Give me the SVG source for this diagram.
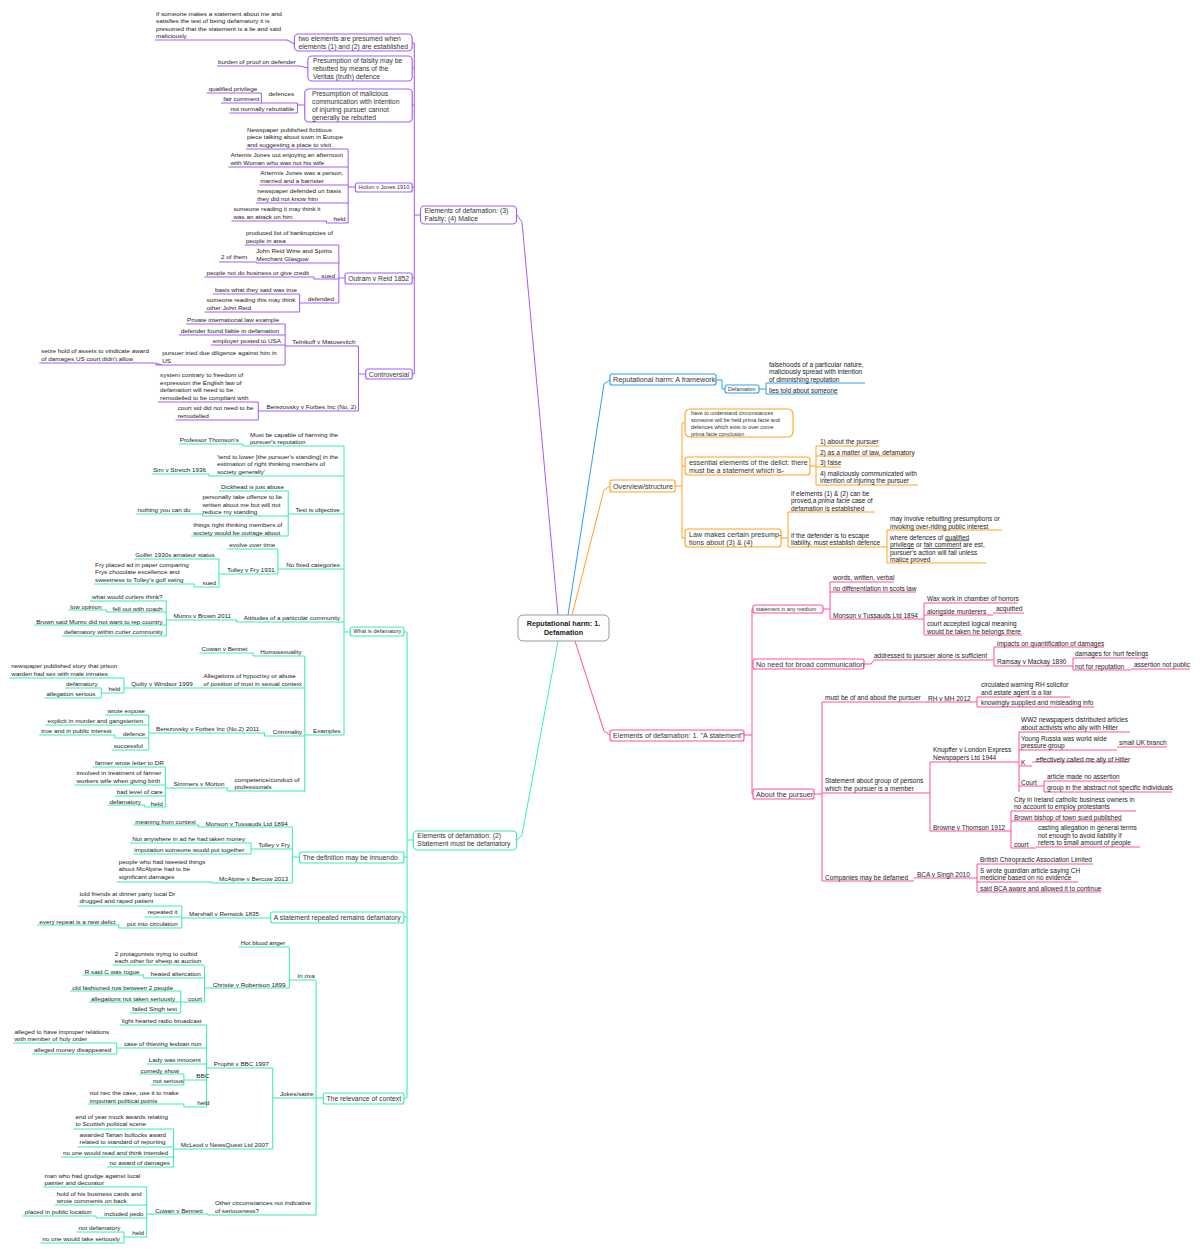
<svg xmlns="http://www.w3.org/2000/svg" width="1200" height="1253" viewBox="0 0 1200 1253">
<style>
text{font-family:"Liberation Sans",Arial,sans-serif;fill:#222}
.t{font-size:6.1px}
.r{font-size:6.5px}
.b{font-size:7.2px;fill:#333}
#left .b{font-size:6.6px}
.s{font-size:5.4px;fill:#333}
.c{stroke-width:1;fill:none}
.pu{stroke:#a15cff}.gr{stroke:#38eeb0}.bl{stroke:#2d9cf0}.or{stroke:#ffa31a}.pk{stroke:#ff4fa0}
.bx{fill:#fff;stroke-width:1.1}
</style>
<rect width="1200" height="1253" fill="#fff"/>
<g id="connectors-main" class="c">
<path class="pu" d="M517,215 L522,222 L558,615"/>
<path class="gr" d="M517,840 L522,835 L558,641"/>
<path class="bl" d="M610,380 L604,384 L568,615"/>
<path class="or" d="M610,486 L604,490 L572,615"/>
<path class="pk" d="M610,735 L604,731 L575,641"/>
</g>
<g id="center">
<rect x="518" y="615" width="91" height="26" rx="5" fill="#fff" stroke="#999"/>
<text x="563.5" y="626" text-anchor="middle" style="font-size:7.2px;font-weight:bold">Reputational harm: 1.</text>
<text x="563.5" y="635" text-anchor="middle" style="font-size:7.2px;font-weight:bold">Defamation</text>
</g>
<g id="left" transform="scale(1.0331,1)">
<g id="purple-connectors" class="c pu">
<path d="M401,43V374 M399,43H401 M399,68H401 M399,105H401 M399,187H401 M399,278H401 M399,374H401 M401,215H407"/>
<path d="M150,40H278L285,44 M210,66H290L298,68"/>
<path d="M253,103H288 M253,93V103 M200,93H253 M214,103H253 M222,113H288 M288,103V113 M288,105H295"/>
<path d="M337,149V223 M337,187H344 M238,149H337 M221,167H337 M251,185H337 M248,203H337 M316,223H337 M224,221H316V223"/>
<path d="M328,245V303 M328,278H334 M237,245H328 M248,263H328 M212,262H248V263 M304,279H328 M198,277H304V279 M290,303H328 M290,294V312 M206,294H290 M198,312H290"/>
<path d="M347,346V411 M347,374H354 M282,346H347 M276,324V365 M276,346H282 M180,324H276 M173,335H276 M204,345H276 M150,365H276 M38,363H150L157,365 M250,411H347 M250,402V420 M153,402H250 M170,420H250"/>
</g>
<g id="purple-nodes">
<g id="n-el3"><rect class="bx pu" x="407" y="206" width="93" height="18" rx="4"/><text class="b" x="411" y="213.5">Elements of defamation: (3)</text><text class="b" x="411" y="221.5">Falsity; (4) Malice</text></g>
<g id="n-two"><rect class="bx pu" x="285" y="34" width="114" height="17" rx="4"/><text class="b" x="289" y="41">two elements are presumed when</text><text class="b" x="289" y="49">elements (1) and (2) are established</text></g>
<g id="n-fals"><rect class="bx pu" x="298" y="56" width="101" height="25" rx="4"/><text class="b" x="303" y="63">Presumption of falsity may be</text><text class="b" x="303" y="71">rebutted by means of the</text><text class="b" x="303" y="79">Veritas (truth) defence</text></g>
<g id="n-mal"><rect class="bx pu" x="295" y="89" width="104" height="33" rx="4"/><text class="b" x="302" y="96">Presumption of malicious</text><text class="b" x="302" y="104">communication with intention</text><text class="b" x="302" y="112">of injuring pursuer cannot</text><text class="b" x="302" y="120">generally be rebutted</text></g>
<g id="n-hulton"><rect class="bx pu" x="344" y="183" width="55" height="9" rx="2"/><text class="s" x="347" y="189.5">Hulton v Jones 1910</text></g>
<g id="n-outram"><rect class="bx pu" x="334" y="273" width="65" height="11" rx="2"/><text class="b" x="337" y="281">Outram v Reid 1852</text></g>
<g id="n-contro"><rect class="bx pu" x="354" y="369" width="45" height="10" rx="2"/><text class="b" x="357" y="377">Controversial</text></g>
<g class="t">
<text x="151" y="16">if someone makes a statement about me and</text><text x="151" y="23.5">satisfies the test of being defamatory it is</text><text x="151" y="31">presumed that the statement is a lie and said</text><text x="151" y="38.5">maliciously</text>
<text x="211" y="64">burden of proof on defender</text>
<text x="202" y="91">qualified privilege</text><text x="216" y="101">fair comment</text><text x="260" y="96">defences</text><text x="223" y="111.5">not normally rebuttable</text>
<text x="239" y="132">Newspaper published fictitious</text><text x="239" y="139.5">piece talking about town in Europe</text><text x="239" y="147">and suggesting a place to visit</text>
<text x="223" y="157.5">Artemis Jones out enjoying an afternoon</text><text x="223" y="165">with Woman who was not his wife</text>
<text x="252" y="175.5">Artermis Jones was a person,</text><text x="252" y="183">married and a barrister</text>
<text x="249" y="193.5">newspaper defended on basis</text><text x="249" y="201">they did not know him</text>
<text x="226" y="211.5">someone reading it may think it</text><text x="226" y="219">was an attack on him</text><text x="323" y="221">held</text>
<text x="238" y="235.5">produced list of bankruptcies of</text><text x="238" y="243">people in area</text>
<text x="248" y="253.5">John Reid Wine and Spirits</text><text x="248" y="261">Merchant Glasgow</text><text x="214" y="259">2 of them</text>
<text x="200" y="275.5">people not do business or give credit</text><text x="311" y="278">sued</text>
<text x="208" y="292">basis what they said was true</text><text x="200" y="302.5">someone reading this may think</text><text x="200" y="310">other John Reid</text><text x="298" y="301.5">defended</text>
<text x="181" y="322.5">Private international law example</text><text x="175" y="333">defender found liable in defamation</text><text x="206" y="343.5">employer posted to USA</text><text x="283" y="344.5">Telnikoff v Matusevitch</text>
<text x="157" y="355.5">pursuer tried due diligence against him in</text><text x="157" y="363">US</text>
<text x="40" y="353.5">seize hold of assets to vindicate award</text><text x="40" y="361">of damages US court didn't allow</text>
<text x="155" y="377.5">system contrary to freedom of</text><text x="155" y="385">expression the English law of</text><text x="155" y="392.5">defamation will need to be</text><text x="155" y="400">remodelled to be compliant with</text>
<text x="172" y="410.5">court sid did not need to be</text><text x="172" y="418">remodelled</text><text x="258" y="409.5">Berezovsky v Forbes Inc (No. 2)</text>
</g>
</g>
<g id="green-connectors" class="c gr">
<path d="M394,632V1098 M391,632H394 M391,857H394 M391,917H394 M391,1098H394 M394,840H400"/>
<path d="M333,446V735 M333,632H339 M235,446H333 M173,444H235V446 M202,476H333 M147,474H202V476"/>
<path d="M279,514H333 M279,491V536 M212,491H279 M132,514H196V516 M196,516H279 M185,536H279"/>
<path d="M269,569H333 M269,549V574 M220,549H269 M212,574H269 M212,559V587 M130,559H212 M91,584H188V587 M188,587H212"/>
<path d="M229,622H333 M161,620H229V622 M161,601V636 M87,601H161 M103,612H161 M66,610H103V612 M33,625H161 M60,636H161"/>
<path d="M295,735H333 M295,656V792 M245,656H295 M193,653H245V656 M190,688H295 M120,688H190 M120,678V693 M9,678H120 M98,693H120 M98,688V698 M63,688H98 M43,698H98"/>
<path d="M256,736H295 M144,733H256V736 M144,715V750 M102,715H144 M44,725H144 M111,738H144 M38,735H111V738 M108,750H144"/>
<path d="M220,791H295 M160,788H220V791 M160,767V807 M90,767H160 M72,785H160 M111,796H160 M140,807H160 M104,805H140V807"/>
<path d="M283,827V883 M283,857H290 M192,827H283 M129,825H192V827 M243,849H283 M243,843V854 M126,843H243 M129,854H243 M205,883H283 M113,882H205V883"/>
<path d="M176,918H262 M176,906V928 M75,906H176 M140,917H176 M115,928H176 M36,925H115V928"/>
<path d="M306,981V1215 M306,1098H313 M280,980H306 M280,947V988 M231,947H280 M198,988H280 M198,966V1002 M109,965H198 M139,978H198 M80,975H139V978 M175,1002H198 M175,991V1013 M68,991H175 M86,1002H175 M126,1013H175"/>
<path d="M264,1098H306 M264,1068V1149 M200,1068H264 M200,1025V1107 M116,1025H200 M113,1048H200 M113,1043V1054 M13,1043H113 M31,1054H113 M142,1064H200 M178,1080H200 M178,1074V1085 M135,1074H178 M146,1085H178 M178,1107H200 M85,1104H178V1107"/>
<path d="M168,1149H264 M168,1129V1167 M71,1129H168 M75,1147H168 M59,1157H168 M104,1167H168"/>
<path d="M201,1215H306 M142,1214H201V1215 M142,1187V1237 M42,1187H142 M53,1205H142 M93,1218H142 M22,1216H93V1218 M120,1237H142 M120,1232V1243 M74,1232H120 M39,1243H120"/>
</g>
<g id="green-nodes">
<g id="n-el2"><rect class="bx gr" x="400" y="831" width="100" height="19" rx="4"/><text class="b" x="404" y="838.5">Elements of defamation: (2)</text><text class="b" x="404" y="846.5">Statement must be defamatory</text></g>
<g id="n-what"><rect class="bx gr" x="339" y="627" width="52" height="9" rx="2"/><text class="s" x="342" y="633.5">What is defamatory</text></g>
<g id="n-innu"><rect class="bx gr" x="290" y="852" width="101" height="11" rx="2"/><text class="b" x="293" y="860">The definition may be innuendo</text></g>
<g id="n-rep"><rect class="bx gr" x="262" y="912" width="129" height="11" rx="2"/><text class="b" x="265" y="920">A statement repeated remains defamatory</text></g>
<g id="n-ctx"><rect class="bx gr" x="313" y="1093" width="78" height="11" rx="2"/><text class="b" x="316" y="1101">The relevance of context</text></g>
<g class="t">
<text x="242" y="437">Must be capable of harming the</text><text x="242" y="444.5">pursuer's reputation</text><text x="174" y="442.5">Professor Thomson's</text>
<text x="210" y="459">'tend to lower [the pursuer's standing] in the</text><text x="210" y="466.5">estimation of right thinking members of</text><text x="210" y="474">society generally'</text><text x="148" y="472">Sim v Stretch 1936</text>
<text x="214" y="489">Dickhead is just abuse</text><text x="196" y="499.5">personally take offence to lie</text><text x="196" y="507">written about me but will not</text><text x="196" y="514.5">reduce my standing</text><text x="133" y="512.5">nothing you can do</text><text x="286" y="512">Test is objective</text>
<text x="187" y="527.5">things right thinking members of</text><text x="187" y="535">society would be outrage about</text>
<text x="222" y="547">evolve over time</text><text x="277" y="567">No fixed categories</text><text x="131" y="557">Golfer 1930s amateur status</text><text x="220" y="572">Tolley v Fry 1931</text>
<text x="92" y="567">Fry placed ad in paper comparing</text><text x="92" y="574.5">Frys chocolate excellence and</text><text x="92" y="582">sweetness to Tolley's golf swing</text><text x="196" y="585">sued</text>
<text x="89" y="599">what would curlers think?</text><text x="68" y="609">low opinion</text><text x="109" y="611">fell out with coach</text><text x="168" y="618">Munro v Brown 2011</text><text x="236" y="620.5">Attitudes of a particular community</text>
<text x="35" y="624">Brown said Munro did not want to rep country</text><text x="62" y="634">defamatory within curler community</text>
<text x="195" y="651.5">Cowan v Bennet</text><text x="252" y="654">Homosexuality</text>
<text x="11" y="668.5">newspaper published story that prison</text><text x="11" y="676">warden had sex with male inmates</text>
<text x="197" y="678.5">Allegations of hypocrisy or abuse</text><text x="197" y="686">of position of trust in sexual context</text><text x="127" y="686">Quilty v Windsor 1999</text>
<text x="64" y="686">defamatory</text><text x="105" y="691">held</text><text x="45" y="696.5">allegation serious</text>
<text x="104" y="713">wrote expose</text><text x="46" y="723.5">explicit in murder and gangsterism</text><text x="151" y="731.5">Berezovsky v Forbes Inc (No.2) 2011</text><text x="264" y="734">Criminality</text><text x="303" y="733">Examples</text>
<text x="40" y="733.5">true and in public interest</text><text x="119" y="736">defence</text><text x="110" y="748.5">successful</text>
<text x="92" y="765.5">farmer wrote letter to DR</text><text x="74" y="775.5">involved in treatment of farmer</text><text x="74" y="783">workers wife when giving birth</text>
<text x="227" y="782">competence/conduct of</text><text x="227" y="789.5">professionals</text><text x="168" y="786.5">Simmers v Morton</text>
<text x="113" y="794">bad level of care</text><text x="106" y="804">defamatory</text><text x="146" y="806">held</text>
<text x="131" y="824">meaning from context</text><text x="199" y="826">Monson v Tussauds Ltd 1894</text>
<text x="128" y="841.5">Not anywhere in ad he had taken money</text><text x="250" y="847">Tolley v Fry</text><text x="130" y="852">imputation someone would put together</text>
<text x="115" y="864">people who had tweeted things</text><text x="115" y="871.5">about McAlpine had to be</text><text x="115" y="879">significant damages</text><text x="212" y="881.5">McAlpine v Bercow 2013</text>
<text x="77" y="896">told friends at dinner party local Dr</text><text x="77" y="903.5">drugged and raped patient</text>
<text x="143" y="914.5">repeated it</text><text x="183" y="916.5">Marshall v Renwick 1835</text><text x="38" y="924">every repeat is a new delict</text><text x="123" y="926.5">put into circulation</text>
<text x="233" y="945.5">Hot blood anger</text><text x="288" y="978.5" font-style="italic">In rixa</text>
<text x="111" y="956">2 protagonists trying to outbid</text><text x="111" y="963.5">each other for sheep at auction</text>
<text x="82" y="974">R said C was rogue</text><text x="146" y="976">heated altercation</text><text x="206" y="987">Christie v Robertson 1899</text>
<text x="70" y="990.5">old fashioned row between 2 people</text><text x="88" y="1001">allegations not taken seriously</text><text x="182" y="1001">court</text><text x="128" y="1011.5">failed Singh test</text>
<text x="118" y="1023.5">light hearted radio broadcast</text><text x="14" y="1034">alleged to have improper relations</text><text x="14" y="1041.5">with member of holy order</text>
<text x="120" y="1046.5">case of thieving lesbian nun</text><text x="33" y="1052">alleged money disappeared</text>
<text x="144" y="1062.5">Lady was innocent</text><text x="207" y="1066">Prophit v BBC 1997</text><text x="136" y="1073">comedy show</text><text x="190" y="1078">BBC</text><text x="148" y="1083">not serious</text>
<text x="87" y="1095.5">not nec the case, use it to make</text><text x="87" y="1103">important political points</text><text x="191" y="1105.5">held</text><text x="271" y="1096">Jokes/satire</text>
<text x="73" y="1119">end of year mock awards relating</text><text x="73" y="1126.5">to Scottish political scene</text>
<text x="77" y="1137">awarded Tartan bollocks award</text><text x="77" y="1144.5">related to standard of reporting</text><text x="175" y="1147">McLeod v NewsQuest Ltd 2007</text>
<text x="61" y="1155.5">no one would read and think intended</text><text x="106" y="1165.5">no award of damages</text>
<text x="43" y="1178">man who had grudge against local</text><text x="43" y="1185.5">painter and decorator</text>
<text x="55" y="1196">hold of his business cards and</text><text x="55" y="1203.5">wrote comments on back</text>
<text x="208" y="1205.5">Other circumstances not indicative</text><text x="208" y="1213">of seriousness?</text><text x="150" y="1213">Cowan v Bennett</text>
<text x="24" y="1214.5">placed in public location</text><text x="101" y="1216.5">included pedo</text>
<text x="76" y="1230.5">not defamatory</text><text x="128" y="1235.5">held</text><text x="41" y="1241">no one would take seriously</text>
</g>
</g>
</g>
<g id="right-connectors" class="c">
<path class="bl" d="M716,380H722V389H725 M759,389H766 M766,383V394 M766,383H865 M766,394H838"/>
<path class="or" d="M675,486H682 M682,423V538 M682,423H685 M682,466H685 M682,538H685 M810,466H816 M816,446V485 M816,446H879 M816,456H913 M816,467H841 M816,485H918 M781,538H788 M788,512V547 M788,512H875 M788,547H887 M887,530V563 M887,530H1002 M887,563H986"/>
<path class="pk" d="M744,735H752 M752,609V794 M752,609H753 M752,664H753 M752,794H753 M823,609H830 M830,582V619 M830,582H894 M830,592H916 M830,619H924 M924,603V635 M924,603H1018 M924,615H993 M993,613H1024 M924,635H1022"/>
<path class="pk" d="M864,664H871 L874,660 H994 M994,647V666 M994,647H1104 M994,666H1073 M1073,658V670 M1073,658H1148 M1073,670H1131 M1131,669H1190"/>
<path class="pk" d="M814,794H822 M822,702V881 M822,702H925 M925,702H977 M977,697V707 M977,697H1070 M977,707H1094 M822,793H930 M930,762V831 M930,762H1019 M1019,732V792 M1019,732H1130 M1019,750H1117 M1117,747H1167 M1019,766H1032 M1032,762H1129 M1019,786H1044 M1044,781V792 M1044,781H1120 M1044,792H1172 M930,831H1011 M1011,811V848 M1011,811H1136 M1011,821H1122 M1011,848H1036 M1036,847H1140 M822,881H914 M914,878H977 M977,864V892 M977,864H1093 M977,882H1078 M977,892H1101"/>
</g>
<g id="right-nodes">
<g id="n-frame"><rect class="bx bl" x="610" y="374" width="106" height="11" rx="2"/><text class="b" x="613" y="382">Reputational harm: A framework</text></g>
<g id="n-defam"><rect class="bx bl" x="725" y="385" width="34" height="8" rx="2"/><text class="s" x="728" y="391">Defamation</text></g>
<g id="n-over"><rect class="bx or" x="610" y="480" width="65" height="12" rx="2"/><text class="b" x="613" y="488.5">Overview/structure</text></g>
<g id="n-circ"><rect class="bx or" x="685" y="409" width="108" height="28" rx="5"/><text class="s" x="691" y="415">have to understand circumstances</text><text class="s" x="691" y="422">someone will be held prima facie and</text><text class="s" x="691" y="429">defences which exist to over come</text><text class="s" x="691" y="436">prima facie conclusion</text></g>
<g id="n-ess"><rect class="bx or" x="685" y="457" width="125" height="18" rx="3"/><text class="b" x="689" y="464.5">essential elements of the delict: there</text><text class="b" x="689" y="472.5">must be a statement which is-</text></g>
<g id="n-law"><rect class="bx or" x="685" y="529" width="96" height="18" rx="3"/><text class="b" x="689" y="536.5">Law makes certain presump-</text><text class="b" x="689" y="544.5">tions about (3) &amp; (4)</text></g>
<g id="n-el1"><rect class="bx pk" x="610" y="730" width="134" height="11" rx="2"/><text class="b" x="613" y="738">Elements of defamation: 1. "A statement"</text></g>
<g id="n-med"><rect class="bx pk" x="753" y="605" width="70" height="8" rx="2"/><text class="s" x="756" y="611">statement in any medium</text></g>
<g id="n-broad"><rect class="bx pk" x="753" y="659" width="111" height="10" rx="2"/><text class="b" x="756" y="666.5">No need for broad communication</text></g>
<g id="n-about"><rect class="bx pk" x="753" y="789" width="61" height="10" rx="2"/><text class="b" x="756" y="796.5">About the pursuer</text></g>
<g class="r">
<text x="769" y="366.5">falsehoods of a particular nature,</text><text x="769" y="374">maliciously spread with intention</text><text x="769" y="381.5">of diminishing reputation</text><text x="769" y="392.5">lies told about someone</text>
<text x="820" y="444">1) about the pursuer</text><text x="820" y="454.5">2) as a matter of law, defamatory</text><text x="820" y="465">3) false</text><text x="820" y="475.5">4) maliciously communicated with</text><text x="820" y="483">intention of injuring the pursuer</text>
<text x="791" y="495.5">if elements (1) &amp; (2) can be</text><text x="791" y="503">proved,a <tspan font-style="italic">prima facie</tspan> case of</text><text x="791" y="510.5">defamation is established</text>
<text x="791" y="537.5">if the defender is to escape</text><text x="791" y="545">liability, must establish defence</text>
<text x="890" y="521">may involve rebutting presumptions or</text><text x="890" y="528.5">invoking over-riding public interest</text>
<text x="890" y="539.5">where defences of <tspan text-decoration="underline">qualified</tspan></text><text x="890" y="547"><tspan text-decoration="underline">privilege</tspan> or <tspan text-decoration="underline">fair comment</tspan> are est,</text><text x="890" y="554.5">pursuer's action will fail unless</text><text x="890" y="562">malice proved</text>
<text x="833" y="580">words, written, verbal</text><text x="833" y="590.5">no differentiation in scots law</text><text x="833" y="617.5">Monson v Tussauds Ltd 1894</text>
<text x="927" y="601">Wax work in chamber of horrors</text><text x="927" y="613.5">alongside murderers</text><text x="996" y="611">acquitted</text><text x="927" y="626">court accepted logical meaning</text><text x="927" y="633.5">would be taken he belongs there</text>
<text x="874" y="658">addressed to pursuer alone is sufficient</text><text x="997" y="646">impacts on quantification of damages</text><text x="997" y="663.5">Ramsay v Mackay 1890</text><text x="1075" y="656">damages for hurt feelings</text><text x="1075" y="669">not for reputation</text><text x="1134" y="667">assertion not public</text>
<text x="825" y="700">must be of and about the pursuer</text><text x="928" y="700.5">RH v MH 2012</text><text x="981" y="687">circulated warning RH solicitor</text><text x="981" y="694.5">and estate agent is a liar</text><text x="981" y="705">knowingly supplied and misleading info</text>
<text x="1021" y="722">WW2 newspapers distributed articles</text><text x="1021" y="729.5">about activists who ally with Hitler</text><text x="1021" y="740.5">Young Russia was world wide</text><text x="1021" y="748">pressure group</text><text x="1119" y="745">small UK branch</text>
<text x="933" y="752">Knupffer v London Express</text><text x="933" y="759.5">Newspapers Ltd 1944</text><text x="1021" y="764.5">K</text><text x="1036" y="762">effectively called me ally of Hitler</text>
<text x="1021" y="784.5">Court</text><text x="1047" y="779">article made no assertion</text><text x="1047" y="789.5">group in the abstract not specific individuals</text>
<text x="825" y="783">Statement about group of persons</text><text x="825" y="791">which the pursuer is a member</text>
<text x="1014" y="801.5">City in Ireland catholic business owners in</text><text x="1014" y="809">no account to employ protestants</text><text x="1014" y="819.5">Brown bishop of town sued published</text><text x="933" y="829.5">Browne v Thomson 1912</text>
<text x="1038" y="830">casting allegation in general terms</text><text x="1038" y="837.5">not enough to avoid liability if</text><text x="1038" y="845">refers to small amount of people</text><text x="1014" y="847">court</text>
<text x="980" y="862">British Chiropractic Association Limited</text><text x="980" y="872.5">S wrote guardian article saying CH</text><text x="980" y="880">medicine based on no evidence</text><text x="980" y="890.5">said BCA aware and allowed it to continue</text>
<text x="917" y="876.5">BCA v Singh 2010</text><text x="825" y="879.5">Companies may be defamed</text>
</g>
</g>
</svg>
